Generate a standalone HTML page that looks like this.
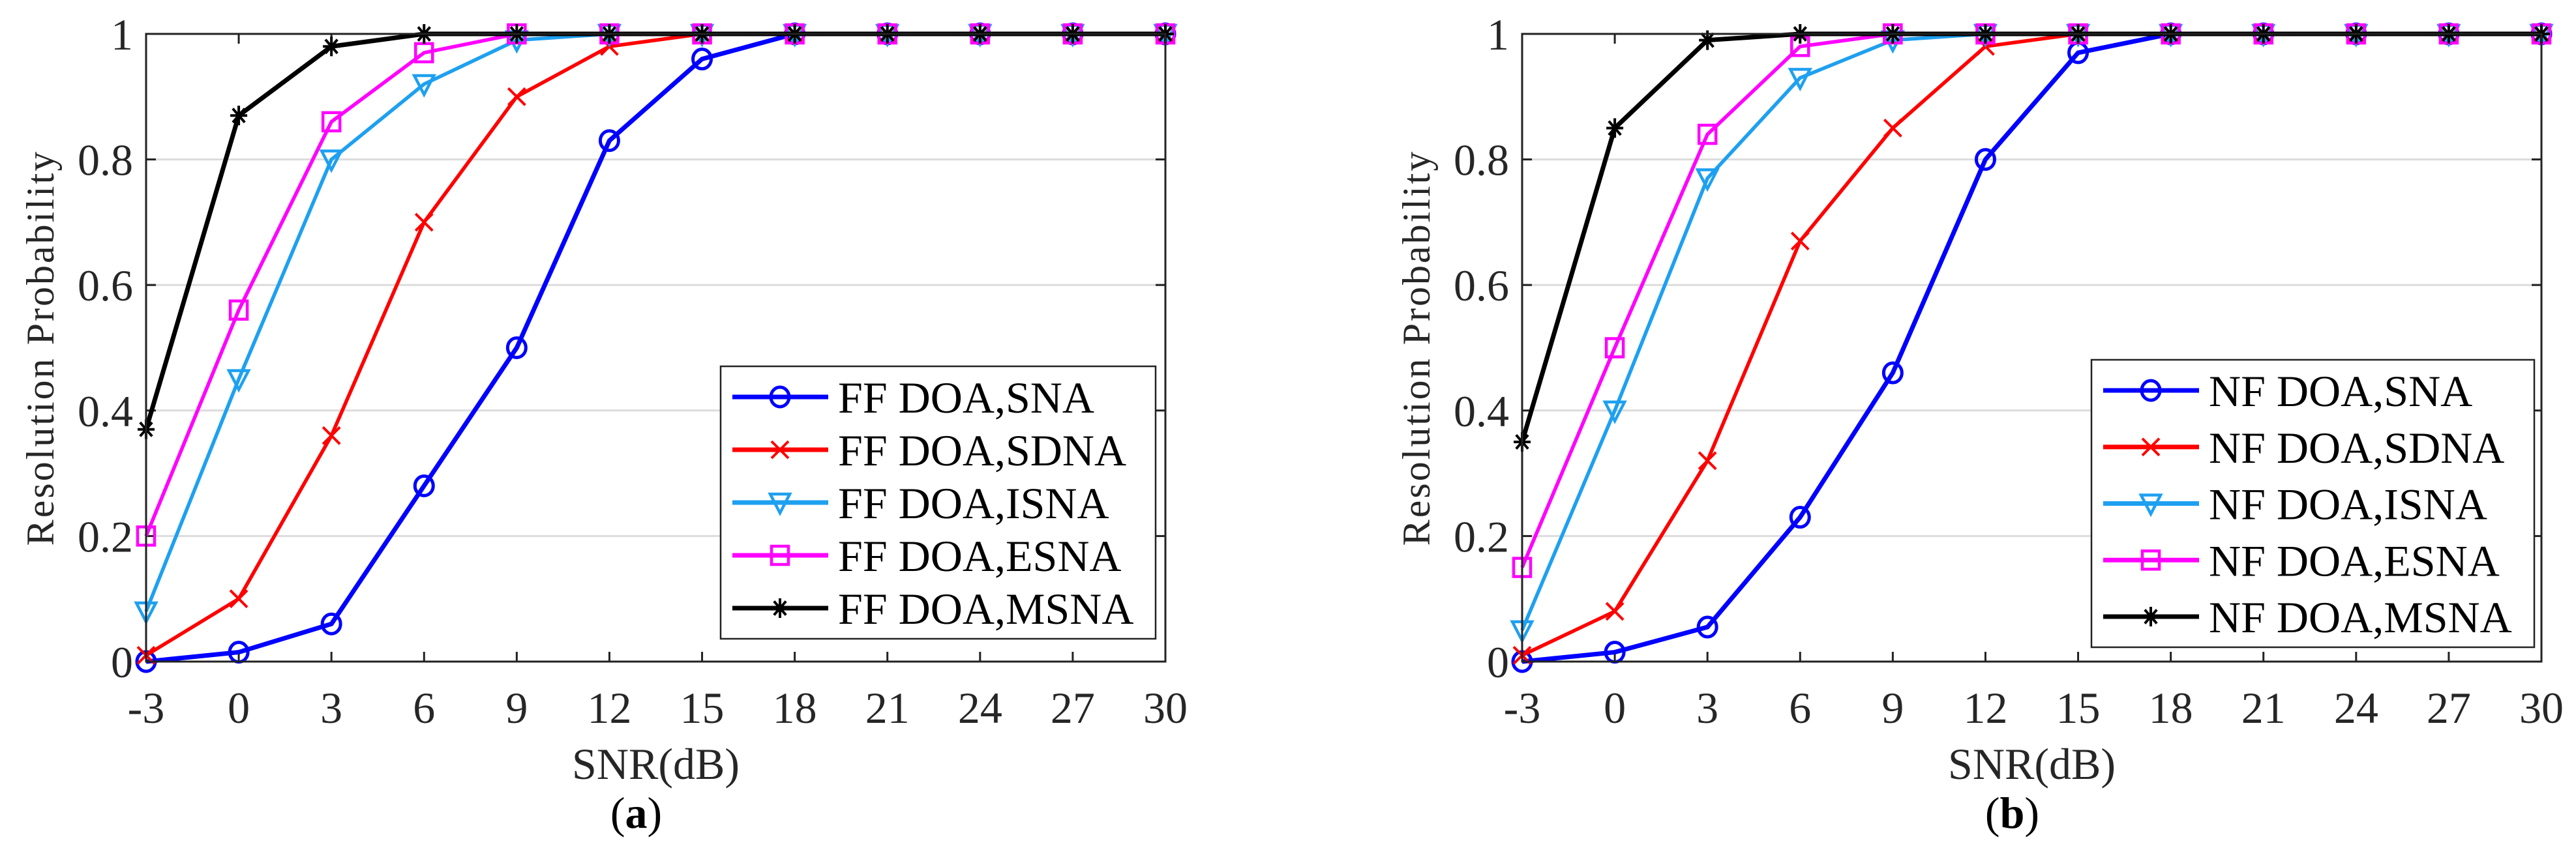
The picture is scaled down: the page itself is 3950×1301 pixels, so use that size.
<!DOCTYPE html>
<html><head><meta charset="utf-8"><style>
html,body{margin:0;padding:0;background:#fff;}
svg{display:block;font-family:"Liberation Serif",serif;}
</style></head><body>
<svg id="chart" width="3950" height="1301" viewBox="0 0 3950 1301" xmlns="http://www.w3.org/2000/svg"></svg>
<script>
const snrTicks = [-3,0,3,6,9,12,15,18,21,24,27,30];
const yTicks = [0,0.2,0.4,0.6,0.8,1];
const yTickLabels = ["0","0.2","0.4","0.6","0.8","1"];
const ffSNA  = [0,0.015,0.06,0.28,0.5,0.83,0.96,1,1,1,1,1];
const ffSDNA = [0.01,0.1,0.36,0.7,0.9,0.98,1,1,1,1,1,1];
const ffISNA = [0.08,0.45,0.8,0.92,0.99,1,1,1,1,1,1,1];
const ffESNA = [0.2,0.56,0.86,0.97,1,1,1,1,1,1,1,1];
const ffMSNA = [0.37,0.87,0.98,1,1,1,1,1,1,1,1,1];
const nfSNA  = [0,0.015,0.055,0.23,0.46,0.8,0.97,1,1,1,1,1];
const nfSDNA = [0.01,0.08,0.32,0.67,0.85,0.98,1,1,1,1,1,1];
const nfISNA = [0.05,0.4,0.77,0.93,0.99,1,1,1,1,1,1,1];
const nfESNA = [0.15,0.5,0.84,0.98,1,1,1,1,1,1,1,1];
const nfMSNA = [0.35,0.85,0.99,1,1,1,1,1,1,1,1,1];
const ffNames = ["FF DOA,SNA","FF DOA,SDNA","FF DOA,ISNA","FF DOA,ESNA","FF DOA,MSNA"];
const nfNames = ["NF DOA,SNA","NF DOA,SDNA","NF DOA,ISNA","NF DOA,ESNA","NF DOA,MSNA"];

const NS="http://www.w3.org/2000/svg";
const svg=document.getElementById('chart');
function mk(tag,attrs,parent){const e=document.createElementNS(NS,tag);for(const k in attrs)e.setAttribute(k,attrs[k]);(parent||svg).appendChild(e);return e;}
const colors=["#0000ff","#ff0000","#1ea0f0","#ff00ff","#000000"];
const markers=["circle","x","tri","square","star"];

function marker(g,type,x,y,c){
  const s=13;
  if(type==="circle") mk('ellipse',{cx:x,cy:y,rx:14,ry:15,fill:'none',stroke:c,'stroke-width':5},g);
  else if(type==="x"){mk('path',{d:`M${x-s} ${y-s}L${x+s} ${y+s}M${x-s} ${y+s}L${x+s} ${y-s}`,stroke:c,'stroke-width':4,fill:'none'},g);}
  else if(type==="tri") mk('path',{d:`M${x-15} ${y-13}L${x+15} ${y-13}L${x} ${y+16}Z`,fill:'none',stroke:c,'stroke-width':4.5},g);
  else if(type==="square") mk('rect',{x:x-13,y:y-14,width:26,height:28,fill:'none',stroke:c,'stroke-width':4.5},g);
  else { for(const a of [0,45,90,135]){const r=a*Math.PI/180,dx=Math.cos(r)*13,dy=Math.sin(r)*15;mk('path',{d:`M${x-dx} ${y-dy}L${x+dx} ${y+dy}`,stroke:c,'stroke-width':4},g);} }
}

function panel(id,x0,x1,y0,y1,series,names,leg,label){
  const g=mk('g',{});
  
  
  const sx=v=>x0+(v-(-3))/(33)*(x1-x0);
  const sy=v=>y0-(v)*(y0-y1);
  yTicks.forEach((t,i)=>{
    if(t>0&&t<1){const l=mk('line',{x1:x0,x2:x1,y1:sy(t),y2:sy(t),stroke:'#dcdcdc','stroke-width':3},g);
    }
    mk('line',{x1:x0,x2:x0+15,y1:sy(t),y2:sy(t),stroke:'#222','stroke-width':3},g);
    mk('line',{x1:x1,x2:x1-15,y1:sy(t),y2:sy(t),stroke:'#222','stroke-width':3},g);
    const tx=mk('text',{x:x0-20,y:sy(t)+24,'text-anchor':'end','font-size':68,fill:'#262626'},g);
    tx.textContent=yTickLabels[i];
    
  });
  snrTicks.forEach(t=>{
    mk('line',{x1:sx(t),x2:sx(t),y1:y0,y2:y0-15,stroke:'#222','stroke-width':3},g);
    mk('line',{x1:sx(t),x2:sx(t),y1:y1,y2:y1+15,stroke:'#222','stroke-width':3},g);
    const tx=mk('text',{x:sx(t),y:y0+94,'text-anchor':'middle','font-size':68,fill:'#262626'},g);
    tx.textContent=String(t);
    
  });
  series.forEach((d,si)=>{
    const sg=mk('g',{},g);
    
    
    const pts=d.map((v,i)=>sx(snrTicks[i])+','+sy(v)).join(' ');
    mk('polyline',{points:pts,fill:'none',stroke:colors[si],'stroke-width':si===0||si===4?7:5.5},sg);
    d.forEach((v,i)=>marker(sg,markers[si],sx(snrTicks[i]),sy(v),colors[si]));
  });
  const box=mk('rect',{x:x0,y:y1,width:x1-x0,height:y0-y1,fill:'none',stroke:'#222','stroke-width':3},g);
  
  const yt=mk('text',{x:0,y:0,'text-anchor':'middle','font-size':60,fill:'#262626','letter-spacing':'3',transform:`translate(${x0-142},${(y0+y1)/2}) rotate(-90)`},g);
  yt.textContent='Resolution Probability';
  
  const xt=mk('text',{x:(x0+x1)/2,y:y0+180,'text-anchor':'middle','font-size':68,fill:'#262626'},g);
  xt.textContent='SNR(dB)';
  
  const cap=mk('text',{x:(x0+x1)/2-30,y:y0+255,'text-anchor':'middle','font-size':68,fill:'#000'},g);
  cap.innerHTML='(<tspan font-weight="bold">'+label+'</tspan>)';
  
  const lg=mk('g',{},g);
  
  mk('rect',{x:leg.x,y:leg.y,width:leg.w,height:leg.h,fill:'#fff',stroke:'#222','stroke-width':2.5},lg);
  names.forEach((n,i)=>{
    const ey=leg.y+47+i*(leg.h-94)/4;
    const eg=mk('g',{},lg);
    
    mk('line',{x1:leg.x+18,x2:leg.x+165,y1:ey,y2:ey,stroke:colors[i],'stroke-width':7},eg);
    marker(eg,markers[i],leg.x+91,ey,colors[i]);
    const t=mk('text',{x:leg.x+180,y:ey+24,'font-size':68,fill:'#000'},eg);
    t.textContent=n;
  });
}
panel('panel-a',224,1787,1015,52,[ffSNA,ffSDNA,ffISNA,ffESNA,ffMSNA],ffNames,{x:1105,y:562,w:667,h:418},'a');
panel('panel-b',2334,3897,1015,52,[nfSNA,nfSDNA,nfISNA,nfESNA,nfMSNA],nfNames,{x:3207,y:552,w:679,h:441},'b');
</script>
</body></html>
